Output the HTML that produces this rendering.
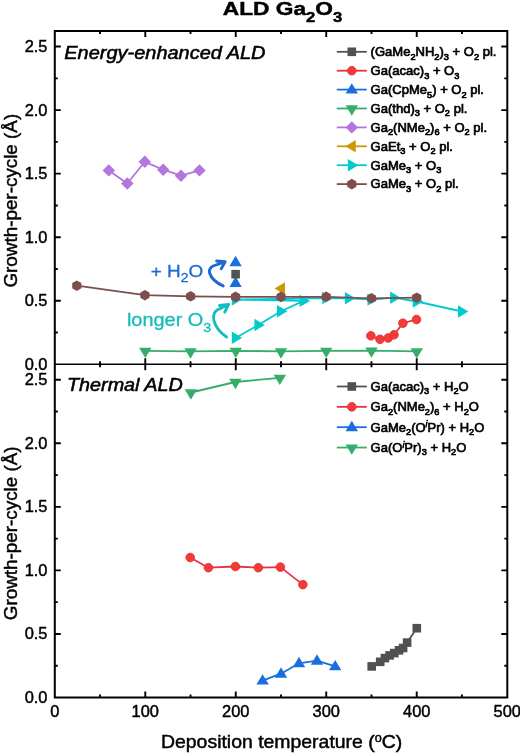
<!DOCTYPE html>
<html><head><meta charset="utf-8"><title>ALD Ga2O3</title>
<style>
html,body{margin:0;padding:0;background:#fff;}
svg{display:block;filter:blur(0.4px);}
text{font-family:"Liberation Sans",Arial,sans-serif;stroke:currentColor;stroke-width:0.45px;paint-order:stroke;}
</style></head>
<body>
<svg width="520" height="753" viewBox="0 0 520 753">
<rect width="520" height="753" fill="#fff"/>
<rect x="54.8" y="31.0" width="452.5" height="666.5" fill="none" stroke="#000" stroke-width="2"/>
<line x1="54.8" y1="364.3" x2="507.3" y2="364.3" stroke="#000" stroke-width="1.6"/>
<path d="M100.04 31.0v3M100.04 697.5v-3M100.04 361.3v6M145.28 31.0v6M145.28 697.5v-6M145.28 358.3v12M190.52 31.0v3M190.52 697.5v-3M190.52 361.3v6M235.76 31.0v6M235.76 697.5v-6M235.76 358.3v12M281 31.0v3M281 697.5v-3M281 361.3v6M326.24 31.0v6M326.24 697.5v-6M326.24 358.3v12M371.48 31.0v3M371.48 697.5v-3M371.48 361.3v6M416.72 31.0v6M416.72 697.5v-6M416.72 358.3v12M461.96 31.0v3M461.96 697.5v-3M461.96 361.3v6M54.8 332.53h3M507.3 332.53h-3M54.8 665.73h3M507.3 665.73h-3M54.8 300.75h6M507.3 300.75h-6M54.8 633.95h6M507.3 633.95h-6M54.8 268.98h3M507.3 268.98h-3M54.8 602.17h3M507.3 602.17h-3M54.8 237.2h6M507.3 237.2h-6M54.8 570.4h6M507.3 570.4h-6M54.8 205.43h3M507.3 205.43h-3M54.8 538.62h3M507.3 538.62h-3M54.8 173.65h6M507.3 173.65h-6M54.8 506.85h6M507.3 506.85h-6M54.8 141.88h3M507.3 141.88h-3M54.8 475.08h3M507.3 475.08h-3M54.8 110.1h6M507.3 110.1h-6M54.8 443.3h6M507.3 443.3h-6M54.8 78.33h3M507.3 78.33h-3M54.8 411.53h3M507.3 411.53h-3M54.8 46.55h6M507.3 46.55h-6M54.8 379.75h6M507.3 379.75h-6" stroke="#000" stroke-width="1.9" fill="none"/>
<text fill="#000" color="#000" transform="translate(54.8 716.9) scale(1.02 1)" font-size="16.1" text-anchor="middle" >0</text>
<text fill="#000" color="#000" transform="translate(145.28 716.9) scale(1.02 1)" font-size="16.1" text-anchor="middle" >100</text>
<text fill="#000" color="#000" transform="translate(235.76 716.9) scale(1.02 1)" font-size="16.1" text-anchor="middle" >200</text>
<text fill="#000" color="#000" transform="translate(326.24 716.9) scale(1.02 1)" font-size="16.1" text-anchor="middle" >300</text>
<text fill="#000" color="#000" transform="translate(416.72 716.9) scale(1.02 1)" font-size="16.1" text-anchor="middle" >400</text>
<text fill="#000" color="#000" transform="translate(507.2 716.9) scale(1.02 1)" font-size="16.1" text-anchor="middle" >500</text>
<text fill="#000" color="#000" transform="translate(47.5 369.8) scale(1.02 1)" font-size="16.1" text-anchor="end" >0.0</text>
<text fill="#000" color="#000" transform="translate(47.5 703) scale(1.02 1)" font-size="16.1" text-anchor="end" >0.0</text>
<text fill="#000" color="#000" transform="translate(47.5 306.25) scale(1.02 1)" font-size="16.1" text-anchor="end" >0.5</text>
<text fill="#000" color="#000" transform="translate(47.5 639.45) scale(1.02 1)" font-size="16.1" text-anchor="end" >0.5</text>
<text fill="#000" color="#000" transform="translate(47.5 242.7) scale(1.02 1)" font-size="16.1" text-anchor="end" >1.0</text>
<text fill="#000" color="#000" transform="translate(47.5 575.9) scale(1.02 1)" font-size="16.1" text-anchor="end" >1.0</text>
<text fill="#000" color="#000" transform="translate(47.5 179.15) scale(1.02 1)" font-size="16.1" text-anchor="end" >1.5</text>
<text fill="#000" color="#000" transform="translate(47.5 512.35) scale(1.02 1)" font-size="16.1" text-anchor="end" >1.5</text>
<text fill="#000" color="#000" transform="translate(47.5 115.6) scale(1.02 1)" font-size="16.1" text-anchor="end" >2.0</text>
<text fill="#000" color="#000" transform="translate(47.5 448.8) scale(1.02 1)" font-size="16.1" text-anchor="end" >2.0</text>
<text fill="#000" color="#000" transform="translate(47.5 52.05) scale(1.02 1)" font-size="16.1" text-anchor="end" >2.5</text>
<text fill="#000" color="#000" transform="translate(47.5 385.25) scale(1.02 1)" font-size="16.1" text-anchor="end" >2.5</text>
<text fill="#000" color="#000" transform="translate(222.8 15.2) scale(1.19 1)" font-size="19.1" text-anchor="start" font-weight="bold">ALD Ga<tspan dy="6.8" font-size="0.73em">2</tspan><tspan dy="-6.8">O</tspan><tspan dy="6.8" font-size="0.73em">3</tspan></text>
<text fill="#000" color="#000" transform="translate(161 748.3) scale(1.062 1)" font-size="18.3" text-anchor="start" >Deposition temperature (<tspan dy="-6" font-size="0.65em">o</tspan><tspan dy="6">C)</tspan></text>
<text transform="translate(16.7 287.6) rotate(-90) scale(1.0 1)" font-size="18.85">Growth-per-cycle (&#197;)</text>
<text transform="translate(16.7 620.2) rotate(-90) scale(1.0 1)" font-size="18.85">Growth-per-cycle (&#197;)</text>
<text fill="#000" color="#000" transform="translate(64.3 59.2) scale(1.04 1)" font-size="19.2" text-anchor="start" font-style="italic" style="stroke-width:0.55px">Energy-enhanced ALD</text>
<text fill="#000" color="#000" transform="translate(67 391.2) scale(1.03 1)" font-size="19.2" text-anchor="start" font-style="italic" style="stroke-width:0.55px">Thermal ALD</text>
<polyline points="145.28,350.8 190.52,351.4 235.76,350.8 281,351.4 326.24,350.8 371.48,350.6 416.72,351.4" fill="none" stroke="#37AD6B" stroke-width="1.8" stroke-linejoin="round"/>
<polygon points="139.08,347.63 151.48,347.63 145.28,358.03" fill="#37AD6B"/>
<polygon points="184.32,348.23 196.72,348.23 190.52,358.63" fill="#37AD6B"/>
<polygon points="229.56,347.63 241.96,347.63 235.76,358.03" fill="#37AD6B"/>
<polygon points="274.8,348.23 287.2,348.23 281,358.63" fill="#37AD6B"/>
<polygon points="320.04,347.63 332.44,347.63 326.24,358.03" fill="#37AD6B"/>
<polygon points="365.28,347.43 377.68,347.43 371.48,357.83" fill="#37AD6B"/>
<polygon points="410.52,348.23 422.92,348.23 416.72,358.63" fill="#37AD6B"/>
<polyline points="235.76,337.8 258.38,325 281,311.2 303.62,300.9 235.76,299.6 326.24,298 348.86,298.3 371.48,299.6 394.1,297.7 416.72,301.5 461.96,311.5" fill="none" stroke="#00CBCC" stroke-width="1.8" stroke-linejoin="round"/>
<polygon points="231.79,331.6 231.79,344 242.19,337.8" fill="#00CBCC"/>
<polygon points="254.41,318.8 254.41,331.2 264.81,325" fill="#00CBCC"/>
<polygon points="277.03,305 277.03,317.4 287.43,311.2" fill="#00CBCC"/>
<polygon points="299.65,294.7 299.65,307.1 310.05,300.9" fill="#00CBCC"/>
<polygon points="231.79,293.4 231.79,305.8 242.19,299.6" fill="#00CBCC"/>
<polygon points="322.27,291.8 322.27,304.2 332.67,298" fill="#00CBCC"/>
<polygon points="344.89,292.1 344.89,304.5 355.29,298.3" fill="#00CBCC"/>
<polygon points="367.51,293.4 367.51,305.8 377.91,299.6" fill="#00CBCC"/>
<polygon points="390.13,291.5 390.13,303.9 400.53,297.7" fill="#00CBCC"/>
<polygon points="412.75,295.3 412.75,307.7 423.15,301.5" fill="#00CBCC"/>
<polygon points="457.99,305.3 457.99,317.7 468.39,311.5" fill="#00CBCC"/>
<polyline points="370.9,335.8 380,339.3 388.2,338 394,334.8 402.9,323.2 416.5,319.5" fill="none" stroke="#EA3042" stroke-width="1.8" stroke-linejoin="round"/>
<circle cx="370.9" cy="335.8" r="4.3" fill="#F43A36" stroke="#E0323A" stroke-width="0.9"/>
<circle cx="380" cy="339.3" r="4.3" fill="#F43A36" stroke="#E0323A" stroke-width="0.9"/>
<circle cx="388.2" cy="338" r="4.3" fill="#F43A36" stroke="#E0323A" stroke-width="0.9"/>
<circle cx="394" cy="334.8" r="4.3" fill="#F43A36" stroke="#E0323A" stroke-width="0.9"/>
<circle cx="402.9" cy="323.2" r="4.3" fill="#F43A36" stroke="#E0323A" stroke-width="0.9"/>
<circle cx="416.5" cy="319.5" r="4.3" fill="#F43A36" stroke="#E0323A" stroke-width="0.9"/>
<polygon points="284.97,282.3 284.97,294.7 274.57,288.5" fill="#CC9900"/>
<polyline points="76.8,285.7 144.9,295.2 190.6,296.3 235.6,296.9 281,296.9 326.24,296.8 371.48,298.3 416.72,297.7" fill="none" stroke="#7D4E4E" stroke-width="1.8" stroke-linejoin="round"/>
<polygon points="81.39,288.35 76.8,291 72.21,288.35 72.21,283.05 76.8,280.4 81.39,283.05" fill="#7D4E4E"/>
<polygon points="149.49,297.85 144.9,300.5 140.31,297.85 140.31,292.55 144.9,289.9 149.49,292.55" fill="#7D4E4E"/>
<polygon points="195.19,298.95 190.6,301.6 186.01,298.95 186.01,293.65 190.6,291 195.19,293.65" fill="#7D4E4E"/>
<polygon points="240.19,299.55 235.6,302.2 231.01,299.55 231.01,294.25 235.6,291.6 240.19,294.25" fill="#7D4E4E"/>
<polygon points="285.59,299.55 281,302.2 276.41,299.55 276.41,294.25 281,291.6 285.59,294.25" fill="#7D4E4E"/>
<polygon points="330.83,299.45 326.24,302.1 321.65,299.45 321.65,294.15 326.24,291.5 330.83,294.15" fill="#7D4E4E"/>
<polygon points="376.07,300.95 371.48,303.6 366.89,300.95 366.89,295.65 371.48,293 376.07,295.65" fill="#7D4E4E"/>
<polygon points="421.31,300.35 416.72,303 412.13,300.35 412.13,295.05 416.72,292.4 421.31,295.05" fill="#7D4E4E"/>
<polygon points="229.4,266.17 241.8,266.17 235.6,255.77" fill="#1A6FDF"/>
<polygon points="229.4,286.97 241.8,286.97 235.6,276.57" fill="#1A6FDF"/>
<rect x="231.3" y="269.9" width="8.6" height="8.6" fill="#515151"/>
<polyline points="108.8,170.4 127.3,183.5 144.8,161.8 163.2,169.7 181,175.7 199.5,170.4" fill="none" stroke="#B177DE" stroke-width="1.8" stroke-linejoin="round"/>
<polygon points="102.6,170.4 108.8,164.2 115,170.4 108.8,176.6" fill="#B177DE"/>
<polygon points="121.1,183.5 127.3,177.3 133.5,183.5 127.3,189.7" fill="#B177DE"/>
<polygon points="138.6,161.8 144.8,155.6 151,161.8 144.8,168" fill="#B177DE"/>
<polygon points="157,169.7 163.2,163.5 169.4,169.7 163.2,175.9" fill="#B177DE"/>
<polygon points="174.8,175.7 181,169.5 187.2,175.7 181,181.9" fill="#B177DE"/>
<polygon points="193.3,170.4 199.5,164.2 205.7,170.4 199.5,176.6" fill="#B177DE"/>
<text fill="#1E68D2" color="#1E68D2" transform="translate(150.8 276.5) scale(1.1 1)" font-size="17.2" text-anchor="start" style="stroke-width:0.3px">+ H<tspan dy="5.6" font-size="0.74em">2</tspan><tspan dy="-5.6">O</tspan></text>
<text fill="#14BBBB" color="#14BBBB" transform="translate(126.9 326.2) scale(1.06 1)" font-size="18.8" text-anchor="start" style="stroke-width:0.3px">longer O<tspan dy="5.4" font-size="0.72em">3</tspan></text>
<path d="M223.2 285.9 Q212 281 209.6 273 Q208.6 268.3 213.2 266 L224.6 261.9 M216.6 261.0 L225.2 261.7 L221.2 268.8" fill="none" stroke="#1E68D2" stroke-width="2.9" stroke-linecap="round" stroke-linejoin="round"/>
<path d="M226.6 337 Q216 330 213.8 320 Q212.6 312.8 217.2 310 L228 304.7 M219.5 305.5 L228.6 304.4 L224.8 312" fill="none" stroke="#10C0C0" stroke-width="2.9" stroke-linecap="round" stroke-linejoin="round"/>
<polyline points="190.9,392.5 235.4,382 279.8,377.8" fill="none" stroke="#37AD6B" stroke-width="1.8" stroke-linejoin="round"/>
<polygon points="184.7,389.33 197.1,389.33 190.9,399.73" fill="#37AD6B"/>
<polygon points="229.2,378.83 241.6,378.83 235.4,389.23" fill="#37AD6B"/>
<polygon points="273.6,374.63 286,374.63 279.8,385.03" fill="#37AD6B"/>
<polyline points="190.2,557.5 208.4,567.7 235.4,566.5 258.3,567.7 280.4,567.1 302.9,584.6" fill="none" stroke="#EA3042" stroke-width="1.8" stroke-linejoin="round"/>
<circle cx="190.2" cy="557.5" r="4.3" fill="#F43A36" stroke="#E0323A" stroke-width="0.9"/>
<circle cx="208.4" cy="567.7" r="4.3" fill="#F43A36" stroke="#E0323A" stroke-width="0.9"/>
<circle cx="235.4" cy="566.5" r="4.3" fill="#F43A36" stroke="#E0323A" stroke-width="0.9"/>
<circle cx="258.3" cy="567.7" r="4.3" fill="#F43A36" stroke="#E0323A" stroke-width="0.9"/>
<circle cx="280.4" cy="567.1" r="4.3" fill="#F43A36" stroke="#E0323A" stroke-width="0.9"/>
<circle cx="302.9" cy="584.6" r="4.3" fill="#F43A36" stroke="#E0323A" stroke-width="0.9"/>
<polyline points="262.6,680.6 281,673.7 299,663.3 317,660.7 335.2,666.4" fill="none" stroke="#1A6FDF" stroke-width="1.8" stroke-linejoin="round"/>
<polygon points="256.4,684.57 268.8,684.57 262.6,674.17" fill="#1A6FDF"/>
<polygon points="274.8,677.67 287.2,677.67 281,667.27" fill="#1A6FDF"/>
<polygon points="292.8,667.27 305.2,667.27 299,656.87" fill="#1A6FDF"/>
<polygon points="310.8,664.67 323.2,664.67 317,654.27" fill="#1A6FDF"/>
<polygon points="329,670.37 341.4,670.37 335.2,659.97" fill="#1A6FDF"/>
<polyline points="371.7,666.4 380.2,661.8 384.9,658.1 389.6,655.4 394.3,653.1 399,650.3 403.1,648 407.1,642.6 416.8,628.2" fill="none" stroke="#515151" stroke-width="1.8" stroke-linejoin="round"/>
<rect x="367.4" y="662.1" width="8.6" height="8.6" fill="#515151"/>
<rect x="375.9" y="657.5" width="8.6" height="8.6" fill="#515151"/>
<rect x="380.6" y="653.8" width="8.6" height="8.6" fill="#515151"/>
<rect x="385.3" y="651.1" width="8.6" height="8.6" fill="#515151"/>
<rect x="390" y="648.8" width="8.6" height="8.6" fill="#515151"/>
<rect x="394.7" y="646" width="8.6" height="8.6" fill="#515151"/>
<rect x="398.8" y="643.7" width="8.6" height="8.6" fill="#515151"/>
<rect x="402.8" y="638.3" width="8.6" height="8.6" fill="#515151"/>
<rect x="412.5" y="623.9" width="8.6" height="8.6" fill="#515151"/>
<line x1="336.8" y1="51.8" x2="366.8" y2="51.8" stroke="#515151" stroke-width="1.8"/>
<rect x="347.5" y="47.5" width="8.6" height="8.6" fill="#515151"/>
<text fill="#000" color="#000" transform="translate(370.6 56.1) scale(1.06 1)" font-size="12.3" text-anchor="start" style="stroke-width:0.65px">(GaMe<tspan dy="3.6" font-size="0.71em">2</tspan><tspan dy="-3.6">NH</tspan><tspan dy="3.6" font-size="0.71em">2</tspan><tspan dy="-3.6">)</tspan><tspan dy="3.6" font-size="0.71em">3</tspan><tspan dy="-3.6"> + O</tspan><tspan dy="3.6" font-size="0.71em">2</tspan><tspan dy="-3.6"> pl.</tspan></text>
<line x1="336.8" y1="70.7" x2="366.8" y2="70.7" stroke="#EA3042" stroke-width="1.8"/>
<circle cx="351.8" cy="70.7" r="4.3" fill="#F43A36" stroke="#E0323A" stroke-width="0.9"/>
<text fill="#000" color="#000" transform="translate(370.6 75) scale(1.06 1)" font-size="12.3" text-anchor="start" style="stroke-width:0.65px">Ga(acac)<tspan dy="3.6" font-size="0.71em">3</tspan><tspan dy="-3.6"> + O</tspan><tspan dy="3.6" font-size="0.71em">3</tspan></text>
<line x1="336.8" y1="89.6" x2="366.8" y2="89.6" stroke="#1A6FDF" stroke-width="1.8"/>
<polygon points="345.6,93.57 358,93.57 351.8,83.17" fill="#1A6FDF"/>
<text fill="#000" color="#000" transform="translate(370.6 93.9) scale(1.06 1)" font-size="12.3" text-anchor="start" style="stroke-width:0.65px">Ga(CpMe<tspan dy="3.6" font-size="0.71em">5</tspan><tspan dy="-3.6">) + O</tspan><tspan dy="3.6" font-size="0.71em">2</tspan><tspan dy="-3.6"> pl.</tspan></text>
<line x1="336.8" y1="108.5" x2="366.8" y2="108.5" stroke="#37AD6B" stroke-width="1.8"/>
<polygon points="345.6,105.33 358,105.33 351.8,115.73" fill="#37AD6B"/>
<text fill="#000" color="#000" transform="translate(370.6 112.8) scale(1.06 1)" font-size="12.3" text-anchor="start" style="stroke-width:0.65px">Ga(thd)<tspan dy="3.6" font-size="0.71em">3</tspan><tspan dy="-3.6"> + O</tspan><tspan dy="3.6" font-size="0.71em">2</tspan><tspan dy="-3.6"> pl.</tspan></text>
<line x1="336.8" y1="127.4" x2="366.8" y2="127.4" stroke="#B177DE" stroke-width="1.8"/>
<polygon points="345.6,127.4 351.8,121.2 358,127.4 351.8,133.6" fill="#B177DE"/>
<text fill="#000" color="#000" transform="translate(370.6 131.7) scale(1.06 1)" font-size="12.3" text-anchor="start" style="stroke-width:0.65px">Ga<tspan dy="3.6" font-size="0.71em">2</tspan><tspan dy="-3.6">(NMe</tspan><tspan dy="3.6" font-size="0.71em">2</tspan><tspan dy="-3.6">)</tspan><tspan dy="3.6" font-size="0.71em">6</tspan><tspan dy="-3.6"> + O</tspan><tspan dy="3.6" font-size="0.71em">2</tspan><tspan dy="-3.6"> pl.</tspan></text>
<line x1="336.8" y1="146.3" x2="366.8" y2="146.3" stroke="#CC9900" stroke-width="1.8"/>
<polygon points="355.77,140.1 355.77,152.5 345.37,146.3" fill="#CC9900"/>
<text fill="#000" color="#000" transform="translate(370.6 150.6) scale(1.06 1)" font-size="12.3" text-anchor="start" style="stroke-width:0.65px">GaEt<tspan dy="3.6" font-size="0.71em">3</tspan><tspan dy="-3.6"> + O</tspan><tspan dy="3.6" font-size="0.71em">2</tspan><tspan dy="-3.6"> pl.</tspan></text>
<line x1="336.8" y1="165.2" x2="366.8" y2="165.2" stroke="#00CBCC" stroke-width="1.8"/>
<polygon points="347.83,159 347.83,171.4 358.23,165.2" fill="#00CBCC"/>
<text fill="#000" color="#000" transform="translate(370.6 169.5) scale(1.06 1)" font-size="12.3" text-anchor="start" style="stroke-width:0.65px">GaMe<tspan dy="3.6" font-size="0.71em">3</tspan><tspan dy="-3.6"> + O</tspan><tspan dy="3.6" font-size="0.71em">3</tspan></text>
<line x1="336.8" y1="184.1" x2="366.8" y2="184.1" stroke="#7D4E4E" stroke-width="1.8"/>
<polygon points="356.39,186.75 351.8,189.4 347.21,186.75 347.21,181.45 351.8,178.8 356.39,181.45" fill="#7D4E4E"/>
<text fill="#000" color="#000" transform="translate(370.6 188.4) scale(1.06 1)" font-size="12.3" text-anchor="start" style="stroke-width:0.65px">GaMe<tspan dy="3.6" font-size="0.71em">3</tspan><tspan dy="-3.6"> + O</tspan><tspan dy="3.6" font-size="0.71em">2</tspan><tspan dy="-3.6"> pl.</tspan></text>
<line x1="336.8" y1="386.5" x2="366.8" y2="386.5" stroke="#515151" stroke-width="1.8"/>
<rect x="347.5" y="382.2" width="8.6" height="8.6" fill="#515151"/>
<text fill="#000" color="#000" transform="translate(370.6 390.8) scale(1.0 1)" font-size="13.0" text-anchor="start" style="stroke-width:0.65px">Ga(acac)<tspan dy="3.6" font-size="0.71em">3</tspan><tspan dy="-3.6"> + H</tspan><tspan dy="3.6" font-size="0.71em">2</tspan><tspan dy="-3.6">O</tspan></text>
<line x1="336.8" y1="406.85" x2="366.8" y2="406.85" stroke="#EA3042" stroke-width="1.8"/>
<circle cx="351.8" cy="406.85" r="4.3" fill="#F43A36" stroke="#E0323A" stroke-width="0.9"/>
<text fill="#000" color="#000" transform="translate(370.6 411.15) scale(1.0 1)" font-size="13.0" text-anchor="start" style="stroke-width:0.65px">Ga<tspan dy="3.6" font-size="0.71em">2</tspan><tspan dy="-3.6">(NMe</tspan><tspan dy="3.6" font-size="0.71em">2</tspan><tspan dy="-3.6">)</tspan><tspan dy="3.6" font-size="0.71em">6</tspan><tspan dy="-3.6"> + H</tspan><tspan dy="3.6" font-size="0.71em">2</tspan><tspan dy="-3.6">O</tspan></text>
<line x1="336.8" y1="427.2" x2="366.8" y2="427.2" stroke="#1A6FDF" stroke-width="1.8"/>
<polygon points="345.6,431.17 358,431.17 351.8,420.77" fill="#1A6FDF"/>
<text fill="#000" color="#000" transform="translate(370.6 431.5) scale(1.0 1)" font-size="13.0" text-anchor="start" style="stroke-width:0.65px">GaMe<tspan dy="3.6" font-size="0.71em">2</tspan><tspan dy="-3.6">(O</tspan><tspan dy="-4.2" font-size="0.68em" font-style="italic">i</tspan><tspan dy="4.2">Pr) + H</tspan><tspan dy="3.6" font-size="0.71em">2</tspan><tspan dy="-3.6">O</tspan></text>
<line x1="336.8" y1="447.55" x2="366.8" y2="447.55" stroke="#37AD6B" stroke-width="1.8"/>
<polygon points="345.6,444.38 358,444.38 351.8,454.78" fill="#37AD6B"/>
<text fill="#000" color="#000" transform="translate(370.6 451.85) scale(1.0 1)" font-size="13.0" text-anchor="start" style="stroke-width:0.65px">Ga(O<tspan dy="-4.2" font-size="0.68em" font-style="italic">i</tspan><tspan dy="4.2">Pr)</tspan><tspan dy="3.6" font-size="0.71em">3</tspan><tspan dy="-3.6"> + H</tspan><tspan dy="3.6" font-size="0.71em">2</tspan><tspan dy="-3.6">O</tspan></text>
</svg>
</body></html>
